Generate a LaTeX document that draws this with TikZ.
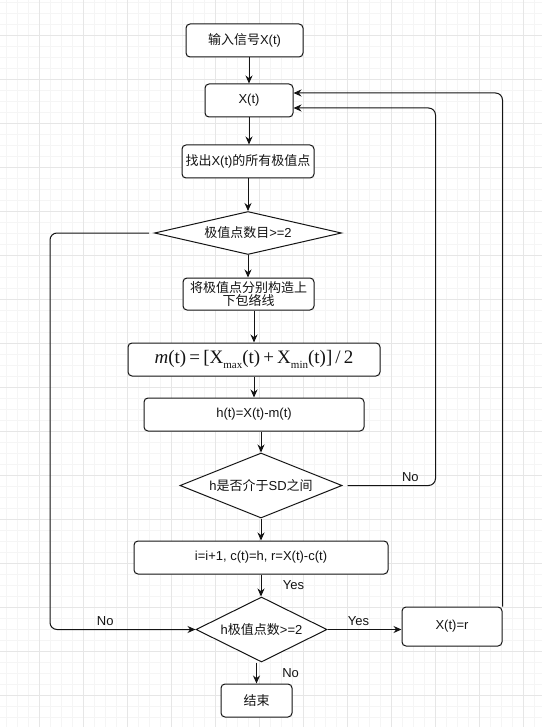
\documentclass[tikz,border=0pt]{standalone}
\usepackage{fontspec}
\setmainfont{Liberation Sans}
\newfontfamily\cjk{Noto Sans CJK SC}
\newfontfamily\tms{Liberation Serif}
\usetikzlibrary{arrows.meta,calc,shapes.geometric}
\definecolor{cLine}{HTML}{141414}
\definecolor{cGridA}{HTML}{F5F5F5}
\definecolor{cGridB}{HTML}{E6E6E6}
\newcommand{\lowsub}[1]{\raisebox{-4.5pt}{\fontsize{11}{11}\selectfont #1}}

\begin{document}
\begin{tikzpicture}[x=1pt, y=-1pt, font=\fontsize{13}{16}\selectfont, >={Stealth[length=8pt,width=7pt]},
    box/.style={draw=cLine, line width=1pt, rounded corners=4pt, minimum height=33pt, inner sep=2pt, fill=white, text=cLine},
    test/.style={draw=cLine, line width=1pt, diamond, inner sep=0pt, fill=white, text=cLine},
    flow/.style={->, draw=cLine, line width=1pt},
    loopback/.style={flow, rounded corners=7pt, shorten <=5pt}]
  \useasboundingbox (0,0) rectangle (542,727);
  \fill[white] (0,0) rectangle (542,727);
  \foreach \g in {0,...,48} \draw[cGridA, line width=0.5pt] ({6.3+11*\g},0) -- ({6.3+11*\g},727);
  \foreach \g in {0,...,65} \draw[cGridA, line width=0.5pt] (0,{2+11*\g}) -- (542,{2+11*\g});
  \foreach \g in {0,...,11} \draw[cGridB, line width=0.5pt] ({39.3+44*\g},0) -- ({39.3+44*\g},727);
  \foreach \g in {0,...,15} \draw[cGridB, line width=0.5pt] (0,{35+44*\g}) -- (542,{35+44*\g});

  \node[box, minimum width=117pt] (in)   at (244.5,40.5) {{\cjk 输入信号}X(t)};
  \node[box, minimum width=88pt]  (xt)   at (249,100.5)  {X(t)};
  \node[box, minimum width=132pt] (find) at (248,161.5)  {{\cjk 找出}X(t){\cjk 的所有极值点}};
  \node[test, aspect=4.3, minimum width=187pt, minimum height=43pt] (d1) at (248,233) {{\cjk 极值点数目}>=2};
  \node[box, minimum width=131pt, minimum height=32pt, align=center, font=\cjk\fontsize{13}{12}\selectfont] (env) at (248.5,294) {将极值点分别构造上\\下包络线};
  \node[box, minimum width=252pt] (mean) at (254,359.5)
    {\tms\fontsize{19}{22}\selectfont\textit{m}(t)\,=\,[X\lowsub{max}(t)\,+\,X\lowsub{min}(t)]\,/\,2};
  \node[box, minimum width=220pt] (ht)   at (254,414.5)  {h(t)=X(t)-m(t)};
  \node[test, aspect=2.5, minimum width=162pt, minimum height=65pt] (d2) at (261,485.5) {h{\cjk 是否介于}SD{\cjk 之间}};
  \node[box, minimum width=254pt] (upd)  at (261,557.5)  {i=i+1, c(t)=h, r=X(t)-c(t)};
  \node[test, aspect=2, minimum width=131pt, minimum height=65pt] (d3) at (261.5,629.5) {h{\cjk 极值点数}>=2};
  \node[box, minimum width=71pt]  (stop) at (256.5,700.5) {\cjk 结束};
  \node[box, minimum width=100pt, minimum height=39pt] (xr) at (452,626.5) {X(t)=r};

  \coordinate (xtA) at ($(xt.east)+(0,-7.5)$);
  \coordinate (xtB) at ($(xt.east)+(0,7.5)$);

  \draw[flow] (in.south -| xt.north) -- (xt.north);
  \draw[flow] (xt.south) -- (xt.south |- find.north);
  \draw[flow] (find.south) -- (find.south |- d1.north);
  \draw[flow] (d1.south) -- (d1.south |- env.north);
  \draw[flow] (env.south -| mean.north) -- (mean.north);
  \draw[flow] (mean.south) -- (mean.south |- ht.north);
  \draw[flow] (ht.south -| d2.north) -- (d2.north);
  \draw[flow] (d2.south) -- (d2.south |- upd.north);
  \draw[flow] (upd.south) -- node[right=18pt, text=cLine]{Yes} (upd.south |- d3.north);
  \draw[flow] (d3.south -| stop.north) -- node[right=22pt, text=cLine]{No} (stop.north);
  \draw[flow] (d3.east) -- node[pos=0.42, above=0pt, text=cLine]{Yes} (d3.east -| xr.west);
  \draw[loopback] (d1.west) -- ++(-104,0) |- node[pos=0.69, above=0pt, text=cLine]{No} (d3.west);
  \draw[loopback] (d2.east) -- node[pos=0.73, above=0pt, text=cLine]{No} ++(93,0) |- (xtB);
  \draw[flow, rounded corners=7pt] (xr.north east) |- (xtA);
\end{tikzpicture}
\end{document}
